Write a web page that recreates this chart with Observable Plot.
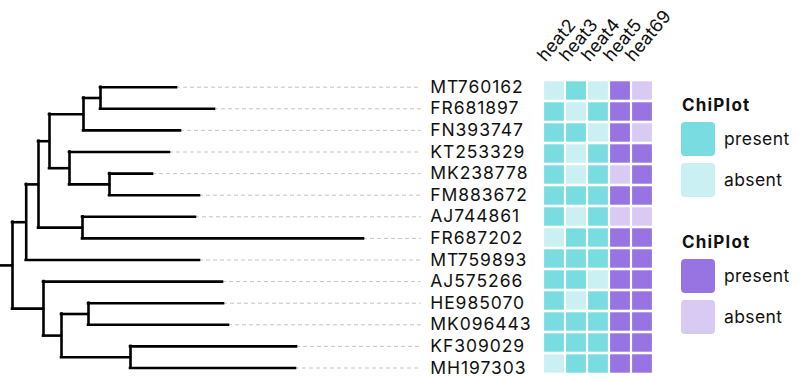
<!DOCTYPE html>
<html>
<head>
<meta charset="utf-8">
<script src="https://cdn.jsdelivr.net/npm/d3@7"></script>
<script src="https://cdn.jsdelivr.net/npm/@observablehq/plot@0.6"></script>
<style>
  html, body { margin: 0; padding: 0; background: #fff; }
  #wrap { position: relative; width: 800px; height: 381px; overflow: hidden; font-family: Inter, "DejaVu Sans", sans-serif; }
  #wrap svg { position: absolute; left: 0; top: 0; }
  .lg-title { position: absolute; left: 682px; font-weight: 700; font-size: 17px; letter-spacing: 1.2px; color: #111; }
  .sw { position: absolute; left: 681px; width: 34px; height: 34px; border-radius: 4px; }
  .lt { position: absolute; left: 724px; font-size: 17.5px; letter-spacing: 0.4px; color: #111; line-height: 20px; }
</style>
</head>
<body>
<div id="wrap"></div>
<script>
// ---- tree data ----
const leaves = ["MT760162","FR681897","FN393747","KT253329","MK238778","FM883672","AJ744861","FR687202","MT759893","AJ575266","HE985070","MK096443","KF309029","MH197303"];
const nodeIds      = ["root","A","B","C","D","E","MT760162","FR681897","FN393747","F","KT253329","G","MK238778","FM883672","H","AJ744861","FR687202","MT759893","I","AJ575266","J","K","HE985070","MK096443","L","KF309029","MH197303"];
const nodeParents  = [null,"root","A","B","C","D","E","E","D","C","F","F","G","G","B","H","H","A","root","I","I","J","K","K","J","L","L"];
const branchLengths= [0.012,0.0137,0.0123,0.011,0.034,0.017,0.076,0.114,0.097,0.020,0.100,0.040,0.043,0.090,0.044,0.113,0.281,0.1733,0.031,0.179,0.018,0.027,0.135,0.140,0.069,0.166,0.165];

// ---- heatmap data (1 = present, 0 = absent) ----
const heatCols = ["heat2","heat3","heat4","heat5","heat69"];
const heat2  = [0,1,1,1,1,1,1,0,1,1,1,1,1,0];
const heat3  = [1,0,1,0,0,1,0,1,1,1,0,1,1,1];
const heat4  = [0,1,0,1,1,1,1,1,1,0,1,1,1,1];
const heat5  = [1,1,1,1,0,1,0,1,1,1,1,1,1,1];
const heat69 = [0,1,0,1,1,1,0,1,1,1,1,1,1,1];
const legendLabels = ["present","absent"];
const legendTitle = "ChiPlot";

const cyan = {present: "#79dce1", absent: "#cbf0f3"};
const purple = {present: "#9874e2", absent: "#d9caf4"};
const colGroup = {heat2: cyan, heat3: cyan, heat4: cyan, heat5: purple, heat69: purple};

// ---- build tree layout ----
const nodes = nodeIds.map((id, i) => ({id, parent: nodeParents[i], len: branchLengths[i], children: []}));
const byId = new Map(nodes.map(n => [n.id, n]));
nodes.forEach(n => { if (n.parent) byId.get(n.parent).children.push(n); });
function layout(n, px) {
  n.px = px; n.x = px + n.len;
  if (n.children.length === 0) { n.y = leaves.indexOf(n.id); n.ymin = n.ymax = n.y; }
  else {
    n.children.forEach(c => layout(c, n.x));
    const ys = n.children.map(c => c.y);
    n.ymin = d3.min(ys); n.ymax = d3.max(ys); n.y = (n.ymin + n.ymax) / 2;
  }
}
layout(byId.get("root"), 0);
const internal = nodes.filter(n => n.children.length);
const tips = nodes.filter(n => !n.children.length);
const xEnd = 0.4207;

const W = 800, H = 381;
const tree = Plot.plot({
  width: W, height: H, margin: 0,
  style: {background: "transparent", overflow: "visible"},
  x: {domain: [0, xEnd], range: [0, 420.7], axis: null},
  y: {domain: [0, leaves.length - 1], range: [86.7, 367.5], axis: null},
  marks: [
    Plot.ruleY(tips, {y: "y", x1: "x", x2: () => xEnd, stroke: "#c4c4c4", strokeWidth: 1, strokeDasharray: "4,3"}),
    Plot.ruleY(nodes, {y: "y", x1: "px", x2: "x", stroke: "#000", strokeWidth: 2.6, strokeLinecap: "square"}),
    Plot.ruleX(internal, {x: "x", y1: "ymin", y2: "ymax", stroke: "#000", strokeWidth: 2.6, strokeLinecap: "square"}),
    Plot.text(tips, {x: () => xEnd, y: "y", text: "id", dx: 9, textAnchor: "start", fontSize: 17.5, fill: "#111", fontFamily: "Inter"})
  ]
});
d3.select(tree).selectAll("text").style("letter-spacing", "0.95px");

const heatRows = [];
const heatArrays = {heat2, heat3, heat4, heat5, heat69};
leaves.forEach((leaf, i) => heatCols.forEach(c => heatRows.push({leaf, col: c, value: heatArrays[c][i]})));

const heat = Plot.plot({
  width: W, height: H, marginTop: 62, marginLeft: 0, marginRight: 0, marginBottom: 0,
  style: {background: "transparent", overflow: "visible"},
  x: {type: "band", domain: heatCols, range: [542, 653.6], padding: 0, axis: null},
  y: {type: "band", domain: leaves, range: [75.9, 378.3], padding: 0, axis: null},
  color: {type: "identity"},
  marks: [
    Plot.cell(heatRows, {x: "col", y: "leaf", fill: d => colGroup[d.col][d.value ? "present" : "absent"],
      insetLeft: 1.1, insetRight: 1.1, insetTop: 1.3, insetBottom: 1.3}),
    Plot.text(heatCols, {x: d => d, text: d => d, frameAnchor: "top", textAnchor: "start", lineAnchor: "bottom",
      rotate: -50, dx: -9, fontSize: 18, fill: "#111", fontFamily: "Inter"})
  ]
});

const wrap = document.getElementById("wrap");
wrap.appendChild(tree);
wrap.appendChild(heat);

// legends
function legend(top, pal) {
  const t = document.createElement("div");
  t.className = "lg-title"; t.style.top = top + "px"; t.textContent = legendTitle;
  wrap.appendChild(t);
  legendLabels.forEach((lab, i) => {
    const s = document.createElement("div");
    s.className = "sw"; s.style.top = (top + 27 + i * 41.5) + "px"; s.style.background = pal[lab];
    wrap.appendChild(s);
    const l = document.createElement("div");
    l.className = "lt"; l.style.top = (top + 34 + i * 41.5) + "px"; l.textContent = lab;
    wrap.appendChild(l);
  });
}
legend(94.5, cyan);
legend(231.5, purple);
</script>
</body>
</html>
